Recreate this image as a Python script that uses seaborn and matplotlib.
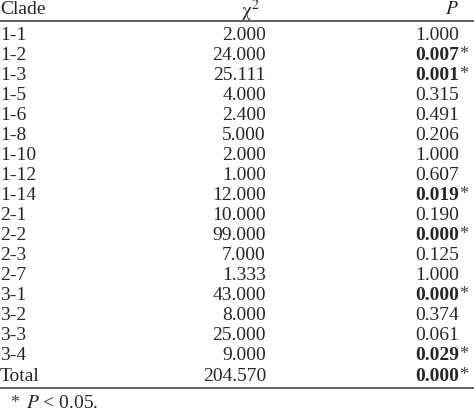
import numpy as np
import pandas as pd
import seaborn as sns
import matplotlib.pyplot as plt

sns.set_theme(style="white")
plt.rcParams['font.family'] = ['Liberation Serif', 'DejaVu Serif']
plt.rcParams['mathtext.fontset'] = 'stix'

clades = ['1-1', '1-2', '1-3', '1-5', '1-6', '1-8', '1-10', '1-12', '1-14',
          '2-1', '2-2', '2-3', '2-7', '3-1', '3-2', '3-3', '3-4', 'Total']
chi2 = [2.000, 24.000, 25.111, 4.000, 2.400, 5.000, 2.000, 1.000, 12.000,
        10.000, 99.000, 7.000, 1.333, 43.000, 8.000, 25.000, 9.000, 204.570]
pvals = [1.000, 0.007, 0.001, 0.315, 0.491, 0.206, 1.000, 0.607, 0.019,
         0.190, 0.000, 0.125, 1.000, 0.000, 0.374, 0.061, 0.029, 0.000]

df = pd.DataFrame({'clade': clades, 'chi2': chi2, 'p': pvals})
df['row'] = np.arange(len(df))

fig = plt.figure(figsize=(4.74, 4.12), dpi=100)
ax = fig.add_axes([0, 0, 1, 1])
ax.set_xlim(0, 474)
ax.set_ylim(412, 0)
ax.axis('off')

fs = 14
y0, dy = 35, 20.06

ax.text(0, 9, 'Clade', fontsize=fs, va='center', ha='left')
ax.text(260, 11, r'$\mathrm{\chi}^{2}$', fontsize=fs, va='center', ha='right')
ax.text(459, 9, r'$P$', fontsize=fs, va='center', ha='right')
ax.axhline(21, color='#444444', lw=1.2)

for _, r in df.iterrows():
    y = y0 + r['row'] * dy
    ax.text(0, y, r['clade'], fontsize=fs, va='center', ha='left')
    ax.text(266, y, f"{r['chi2']:.3f}", fontsize=fs, va='center', ha='right')
    sig = r['p'] < 0.05
    ax.text(459, y, f"{r['p']:.3f}", fontsize=fs, va='center', ha='right',
            weight='bold' if sig else 'normal')
    if sig:
        ax.text(459, y - 1, '*', fontsize=fs - 1, va='center', ha='left', color='#444444')

ax.axhline(388, color='#444444', lw=1.2)
ax.text(10, 403, '*', fontsize=fs - 1, va='center', ha='left', color='#444444')
ax.text(26, 403, r'$P$ < 0.05.', fontsize=fs, va='center', ha='left')

fig.savefig('out.png', dpi=100)
